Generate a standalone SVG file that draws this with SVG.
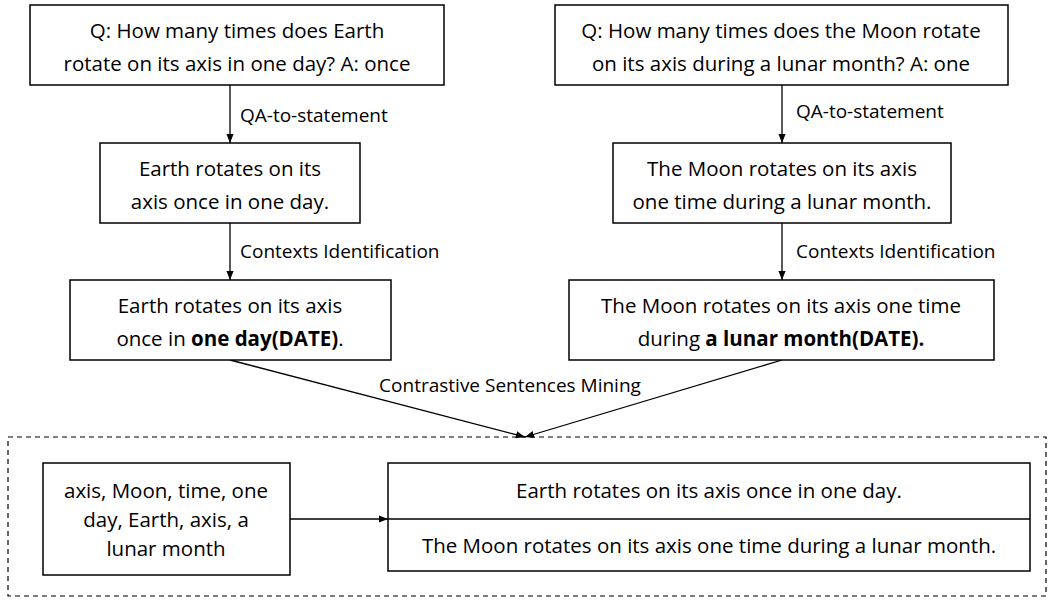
<svg xmlns="http://www.w3.org/2000/svg" width="1054" height="600" viewBox="0 0 1054 600">
<style>
text{font-family:"Open Sans","Liberation Sans",sans-serif;font-size:20.5px;fill:#000}
.c{text-anchor:middle}
.l{font-size:19px}
rect{fill:#fff;stroke:#000;stroke-width:1.5}
line{stroke:#000;stroke-width:1.3}
</style>
<defs><marker id="a" viewBox="0 0 10 10" refX="10" refY="5" markerWidth="7" markerHeight="7" orient="auto"><path d="M0,1 L10,5 L0,9 z" fill="#000"/></marker></defs>
<rect x="8" y="437" width="1038" height="159" style="fill:none;stroke-dasharray:5,4;stroke-width:1.2"/>
<g id="connectors">
<line x1="230" y1="85" x2="230" y2="143" marker-end="url(#a)"/>
<line x1="230" y1="223" x2="230" y2="280" marker-end="url(#a)"/>
<line x1="782" y1="85" x2="782" y2="143" marker-end="url(#a)"/>
<line x1="782" y1="223" x2="782" y2="280" marker-end="url(#a)"/>
<line x1="230" y1="360" x2="525" y2="437" marker-end="url(#a)"/>
<line x1="782" y1="360" x2="525" y2="437" marker-end="url(#a)"/>
<line x1="290" y1="519" x2="388" y2="519" marker-end="url(#a)"/>
<text class="l" x="240" y="122">QA-to-statement</text>
<text class="l" x="240" y="258">Contexts Identification</text>
<text class="l" x="796" y="118">QA-to-statement</text>
<text class="l" x="796" y="258">Contexts Identification</text>
<text class="l c" x="510" y="392">Contrastive Sentences Mining</text>
</g>
<g id="q1"><rect x="30" y="5" width="414" height="80"/><text class="c" x="237" y="38">Q: How many times does Earth</text><text class="c" x="237" y="71">rotate on its axis in one day? A: once</text></g>
<g id="s1"><rect x="100" y="143" width="260" height="80"/><text class="c" x="230" y="176">Earth rotates on its</text><text class="c" x="230" y="209">axis once in one day.</text></g>
<g id="c1"><rect x="70" y="280" width="321" height="80"/><text class="c" x="230" y="313">Earth rotates on its axis</text><text class="c" x="230" y="346">once in <tspan font-weight="bold">one day(DATE)</tspan>.</text></g>
<g id="q2"><rect x="555" y="5" width="453" height="80"/><text class="c" x="781" y="38">Q: How many times does the Moon rotate</text><text class="c" x="781" y="71">on its axis during a lunar month? A: one</text></g>
<g id="s2"><rect x="613" y="143" width="338" height="80"/><text class="c" x="782" y="176">The Moon rotates on its axis</text><text class="c" x="782" y="209">one time during a lunar month.</text></g>
<g id="c2"><rect x="569" y="280" width="425" height="80"/><text class="c" x="781" y="313">The Moon rotates on its axis one time</text><text class="c" x="781" y="346">during <tspan font-weight="bold">a lunar month(DATE).</tspan></text></g>
<g id="words"><rect x="43" y="463" width="247" height="112"/><text class="c" x="166" y="498">axis, Moon, time, one</text><text class="c" x="166" y="527">day, Earth, axis, a</text><text class="c" x="166" y="556">lunar month</text></g>
<g id="pair"><rect x="388" y="463" width="642" height="108"/><line x1="388" y1="519" x2="1030" y2="519"/><text class="c" x="709" y="498">Earth rotates on its axis once in one day.</text><text class="c" x="709" y="553">The Moon rotates on its axis one time during a lunar month.</text></g>
</svg>
